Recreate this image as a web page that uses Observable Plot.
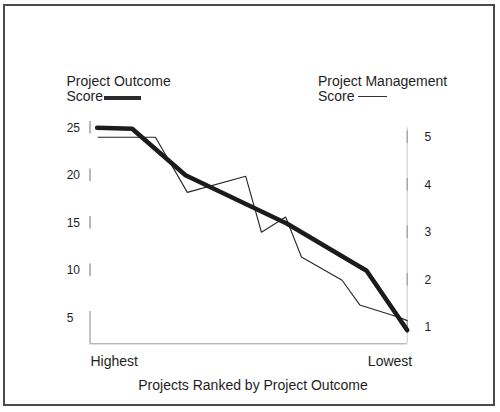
<!DOCTYPE html>
<html><head><meta charset="utf-8">
<script src="https://cdn.jsdelivr.net/npm/d3@7"></script>
<script src="https://cdn.jsdelivr.net/npm/@observablehq/plot@0.6"></script>
<style>
body{margin:0;background:#fff;}
#wrap{position:relative;width:500px;height:412px;overflow:hidden;font-family:"Liberation Sans",Arial,Helvetica,sans-serif;color:#1e1e1e;background:#fff;}
#chart{position:absolute;left:0;top:0;}
#frame{position:absolute;left:3px;top:4px;width:488px;height:398px;border:2px solid #4a4a4a;pointer-events:none;}
.leg{position:absolute;font-size:14px;line-height:15px;white-space:nowrap;}
.sw{display:inline-block;}
</style></head><body>
<div id="wrap"><div id="chart"></div><div id="frame"></div></div>
<script>
// ---- data ----
const seriesNames = ["Project Outcome", "Project Management"];
const seriesSub = "Score";
// rank position along x: 0 = highest outcome, 100 = lowest outcome
const outcomeRank  = [0, 11.3, 28.5, 61.3, 86.9, 100];
const outcomeScore = [25, 24.9, 20, 14.9, 9.95, 3.7];
const mgmtRank  = [0.3, 18.8, 29.1, 47.9, 53.0, 60.8, 65.9, 79.0, 84.7, 97.8, 100];
const mgmtScore = [5.0, 5.0, 3.84, 4.18, 3.0, 3.32, 2.48, 1.99, 1.47, 1.2, 1.14];
const leftTicks  = [25, 20, 15, 10, 5];
const rightTicks = [5, 4, 3, 2, 1];
const xEndLabels = ["Highest", "Lowest"];
const xTitle = "Projects Ranked by Project Outcome";

// right (management) scale mapped onto left (outcome) scale
const toLeft = r => 5 * r - 1;

const outcome = outcomeRank.map((x, i) => ({x, v: outcomeScore[i]}));
const mgmt = mgmtRank.map((x, i) => ({x, v: toLeft(mgmtScore[i])}));

const xDom = [-2.3, 100];
const yDom = [2.26, 27.87];
const half = 0.66;

const chart = Plot.plot({
  width: 500, height: 412,
  marginLeft: 89.5, marginRight: 93.3, marginTop: 100, marginBottom: 68.7,
  x: {domain: xDom, axis: null},
  y: {domain: yDom, axis: null},
  style: {fontFamily: '"Liberation Sans", Arial, Helvetica, sans-serif', fontSize: "14px", color: "#1e1e1e", background: "transparent", overflow: "visible"},
  marks: [
    // bottom axis
    Plot.ruleY([yDom[0]], {x1: xDom[0], x2: xDom[1], stroke: "#9a9a9a", strokeWidth: 1}),
    // left axis segments
    Plot.ruleX(leftTicks.filter(t => t > 5), {x: () => xDom[0], y1: d => d - half, y2: d => d + half, stroke: "#707070"}),
    Plot.ruleX(leftTicks.filter(t => t === 5), {x: () => xDom[0], y1: yDom[0], y2: d => d + half, stroke: "#8a8a8a"}),
    // right axis
    Plot.ruleX([xDom[1]], {y1: yDom[0], y2: toLeft(rightTicks[0]) + 1, stroke: "#c8c8c8"}),
    Plot.ruleX(rightTicks, {x: () => xDom[1], y1: d => toLeft(d) - half, y2: d => toLeft(d) + half, stroke: "#909090"}),
    // series
    Plot.line(mgmt, {x: "x", y: "v", stroke: "#262626", strokeWidth: 1.1, strokeLinejoin: "miter"}),
    Plot.line(outcome, {x: "x", y: "v", stroke: "#1b1b1b", strokeWidth: 4.5, strokeLinejoin: "round"}),
    // tick labels
    Plot.text(leftTicks, {y: d => d, text: d => String(d), frameAnchor: "left", textAnchor: "start", dx: -23.3, fontSize: 12, fill: "#1e1e1e"}),
    Plot.text(rightTicks, {y: d => toLeft(d), text: d => String(d), frameAnchor: "right", textAnchor: "start", dx: 17.3, fontSize: 12, fill: "#1e1e1e"}),
    // x end labels and title
    Plot.text([xEndLabels[0]], {text: d => d, frameAnchor: "bottom-left", textAnchor: "start", lineAnchor: "bottom", dx: 0.5, dy: 21.7, fontSize: 14, fill: "#1e1e1e"}),
    Plot.text([xEndLabels[1]], {text: d => d, frameAnchor: "bottom-right", textAnchor: "end", lineAnchor: "bottom", dx: 5, dy: 21.7, fontSize: 14, fill: "#1e1e1e"}),
    Plot.text([xTitle], {text: d => d, frameAnchor: "bottom", textAnchor: "middle", lineAnchor: "bottom", dx: 4.4, dy: 45.7, fontSize: 14, fill: "#1e1e1e"})
  ]
});
document.getElementById("chart").appendChild(chart);

// legends (HTML above the plot area)
const wrap = document.getElementById("wrap");
function legend(name, left, swatchCss) {
  const d = document.createElement("div");
  d.className = "leg";
  d.style.left = left + "px";
  d.style.top = "73.6px";
  d.appendChild(document.createTextNode(name));
  d.appendChild(document.createElement("br"));
  d.appendChild(document.createTextNode(seriesSub));
  const s = document.createElement("span");
  s.className = "sw";
  s.style.cssText = swatchCss;
  d.appendChild(s);
  wrap.appendChild(d);
}
legend(seriesNames[0], 66.5, "width:37px;height:4px;background:#2a2a2a;margin-left:1px;vertical-align:1px;");
legend(seriesNames[1], 318, "width:29px;height:1px;background:#333;margin-left:3px;vertical-align:3.2px;");
</script>
</body></html>
